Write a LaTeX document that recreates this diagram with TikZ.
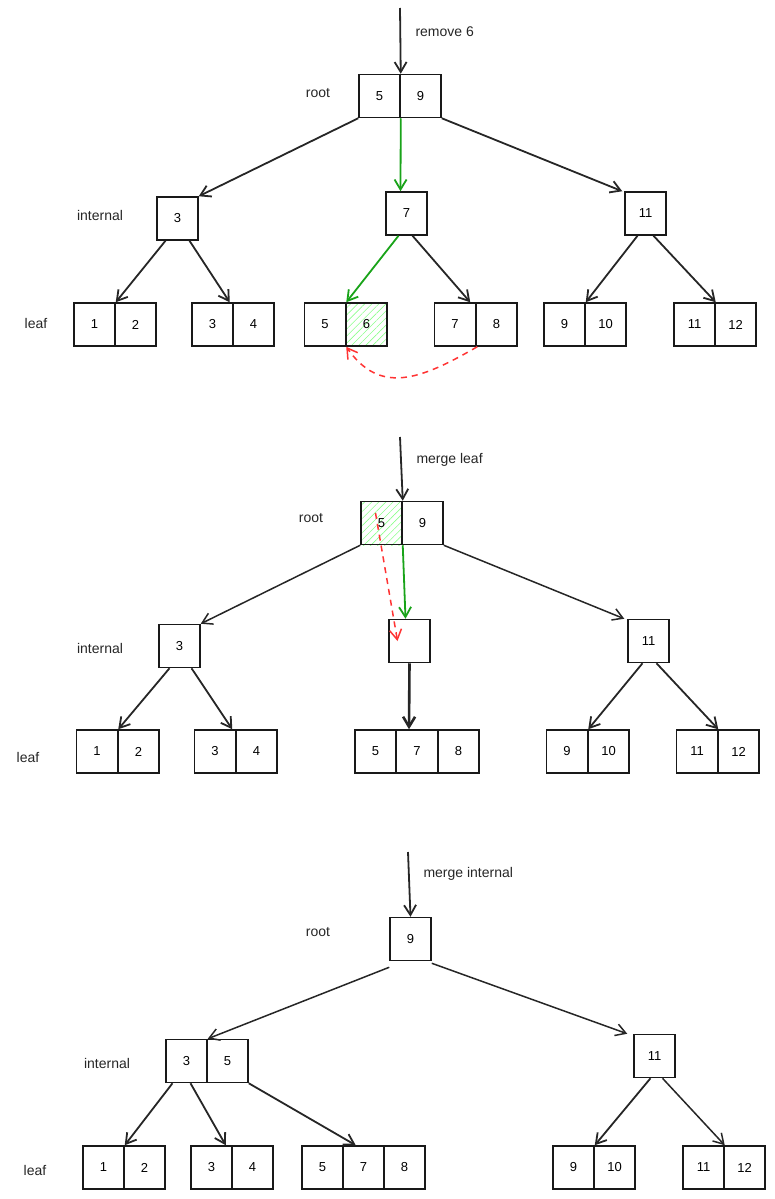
\documentclass[tikz,border=0pt]{standalone}
\usepackage{fontspec}
\setmainfont{Liberation Sans}
\usetikzlibrary{arrows.meta,patterns.meta}
\begin{document}
\begin{tikzpicture}[x=1pt,y=-1pt,
  cell/.style={draw=black!90,line width=1.5pt,minimum width=41pt,minimum height=43pt,inner sep=0pt,font=\fontsize{13}{15}\selectfont},
  lab/.style={font=\fontsize{14}{16}\selectfont,text=black!85},
  ar/.style={-{Straight Barb[length=10pt,width=12pt]},line width=1.8pt,draw=black!85},
  gar/.style={ar,draw=green!60!black!90},
  rar/.style={ar,draw=red!80,dash pattern=on 6pt off 5pt,line width=1.5pt},
  hatch/.style={pattern={Lines[angle=45,distance=5pt,line width=0.6pt]},pattern color=green!45}]
\useasboundingbox (0,0) rectangle (775,1199);
% ===== section 1 =====
\coordinate (s1) at (400,8);
\node[lab,anchor=west] (t1) at (412,32) {remove 6};
\node[cell] (r1a) at (379.5,96) {5};
\node[cell] (r1b) at (420.5,96) {9};
\node[lab] (lroot1) at (318,93) {root};
\node[lab] (lint1) at (100,215) {internal};
\node[lab] (lleaf1) at (36,323) {leaf};
\node[cell] (i1a) at (177.5,218.5) {3};
\node[cell] (i1b) at (406.5,213.5) {7};
\node[cell] (i1c) at (645.5,213.5) {11};
\node[cell] (l1a) at (94.5,324.5) {1};
\node[cell] (l1b) at (135.5,324.5) {2};
\node[cell] (l1c) at (212.5,324.5) {3};
\node[cell] (l1d) at (253.5,324.5) {4};
\node[cell] (l1e) at (325,324.5) {5};
\path[hatch] (346,303) rectangle (387,346);
\node[cell] (l1f) at (366.5,324.5) {6};
\node[cell] (l1g) at (455,324.5) {7};
\node[cell] (l1h) at (496.5,324.5) {8};
\node[cell] (l1i) at (564.5,324.5) {9};
\node[cell] (l1j) at (605.5,324.5) {10};
\node[cell] (l1k) at (694.5,324.5) {11};
\node[cell] (l1l) at (735.5,324.5) {12};
\draw[ar] (s1) -- (r1a.north east);
\draw[ar] (r1a.south west) -- (i1a.north east);
\draw[gar] (r1a.south east) -- ([xshift=-6pt]i1b.north);
\draw[ar] (r1b.south east) -- ([xshift=-2pt]i1c.north west);
\draw[ar] ([xshift=-12pt]i1a.south) -- ([xshift=0pt]l1a.north east);
\draw[ar] ([xshift=12pt]i1a.south) -- ([xshift=-4pt]l1c.north east);
\draw[gar] ([xshift=-8pt]i1b.south) -- (l1e.north east);
\draw[ar] ([xshift=6pt]i1b.south) -- ([xshift=-6pt]l1g.north east);
\draw[ar] ([xshift=-8pt]i1c.south) -- (l1i.north east);
\draw[ar] ([xshift=8pt]i1c.south) -- (l1k.north east);
\draw[rar] ([xshift=2pt]l1h.south west) .. controls (420,380) and (380,395) .. (l1e.south east);
% ===== section 2 =====
\coordinate (s2) at (400,437);
\node[lab,anchor=west] (t2) at (413,460) {merge leaf};
\path[hatch] (361,501) rectangle (402,545);
\node[cell] (r2a) at (381.5,523) {5};
\node[cell] (r2b) at (422.5,523) {9};
\node[lab] (lroot2) at (311,518) {root};
\node[lab] (lint2) at (100,648) {internal};
\node[lab] (lleaf2) at (28,757) {leaf};
\node[cell] (i2a) at (179.5,646) {3};
\node[cell] (i2b) at (409.5,641) {};
\node[cell] (i2c) at (648.5,641) {11};
\node[cell] (l2a) at (97,751.5) {1};
\node[cell] (l2b) at (138.5,751.5) {2};
\node[cell] (l2c) at (215,751.5) {3};
\node[cell] (l2d) at (256.5,751.5) {4};
\node[cell] (l2e) at (375.5,751.5) {5};
\node[cell] (l2f) at (417,751.5) {7};
\node[cell] (l2g) at (458.5,751.5) {8};
\node[cell] (l2h) at (567,751.5) {9};
\node[cell] (l2i) at (608.5,751.5) {10};
\node[cell] (l2j) at (697,751.5) {11};
\node[cell] (l2k) at (738.5,751.5) {12};
\draw[ar] (s2) -- (r2a.north east);
\draw[ar,line width=1.5pt] (r2a.south west) -- (i2a.north east);
\draw[gar] (r2a.south east) -- ([xshift=-4pt]i2b.north);
\draw[ar,line width=1.5pt] (r2b.south east) -- ([xshift=-3pt]i2c.north west);
\draw[rar] ([xshift=-6pt,yshift=10pt]r2a.center) -- ([xshift=-12pt]i2b.center);
\draw[ar] ([xshift=-10pt]i2a.south) -- (l2a.north east);
\draw[ar] ([xshift=12pt]i2a.south) -- ([xshift=-4pt]l2c.north east);
\draw[ar,line width=2.6pt] (i2b.south) -- ([xshift=-8pt]l2f.north);
\draw[ar] ([xshift=-6pt]i2c.south) -- (l2h.north east);
\draw[ar] ([xshift=8pt]i2c.south) -- (l2j.north east);
% ===== section 3 =====
\coordinate (s3) at (408,852);
\node[lab,anchor=west] (t3) at (420,874) {merge internal};
\node[cell] (r3) at (410.5,939) {9};
\node[lab] (lroot3) at (318,932) {root};
\node[lab] (lint3) at (107,1063) {internal};
\node[lab] (lleaf3) at (35,1170) {leaf};
\node[cell] (i3a) at (186.5,1061) {3};
\node[cell] (i3b) at (227.5,1061) {5};
\node[cell] (i3c) at (654.5,1056) {11};
\node[cell] (l3a) at (103.5,1167.5) {1};
\node[cell] (l3b) at (144.5,1167.5) {2};
\node[cell] (l3c) at (211.5,1167.5) {3};
\node[cell] (l3d) at (252.5,1167.5) {4};
\node[cell] (l3e) at (322.5,1167.5) {5};
\node[cell] (l3f) at (363.5,1167.5) {7};
\node[cell] (l3g) at (404.5,1167.5) {8};
\node[cell] (l3h) at (573.5,1167.5) {9};
\node[cell] (l3i) at (614.5,1167.5) {10};
\node[cell] (l3j) at (703.5,1167.5) {11};
\node[cell] (l3k) at (744.5,1167.5) {12};
\draw[ar] (s3) -- (r3.north);
\draw[ar,line width=1.5pt] ([yshift=-6pt]r3.south west) -- (i3a.north east);
\draw[ar,line width=1.5pt] ([yshift=-2pt]r3.south east) -- ([xshift=-6pt]i3c.north west);
\draw[ar] ([xshift=-14pt]i3a.south) -- (l3a.north east);
\draw[ar] ([xshift=4pt]i3a.south) -- ([xshift=-7pt]l3c.north east);
\draw[ar] (i3b.south east) -- ([xshift=12pt]l3e.north east);
\draw[ar] ([xshift=-4pt]i3c.south) -- (l3h.north east);
\draw[ar,line width=1.5pt] ([xshift=8pt]i3c.south) -- (l3j.north east);
\end{tikzpicture}
\end{document}
